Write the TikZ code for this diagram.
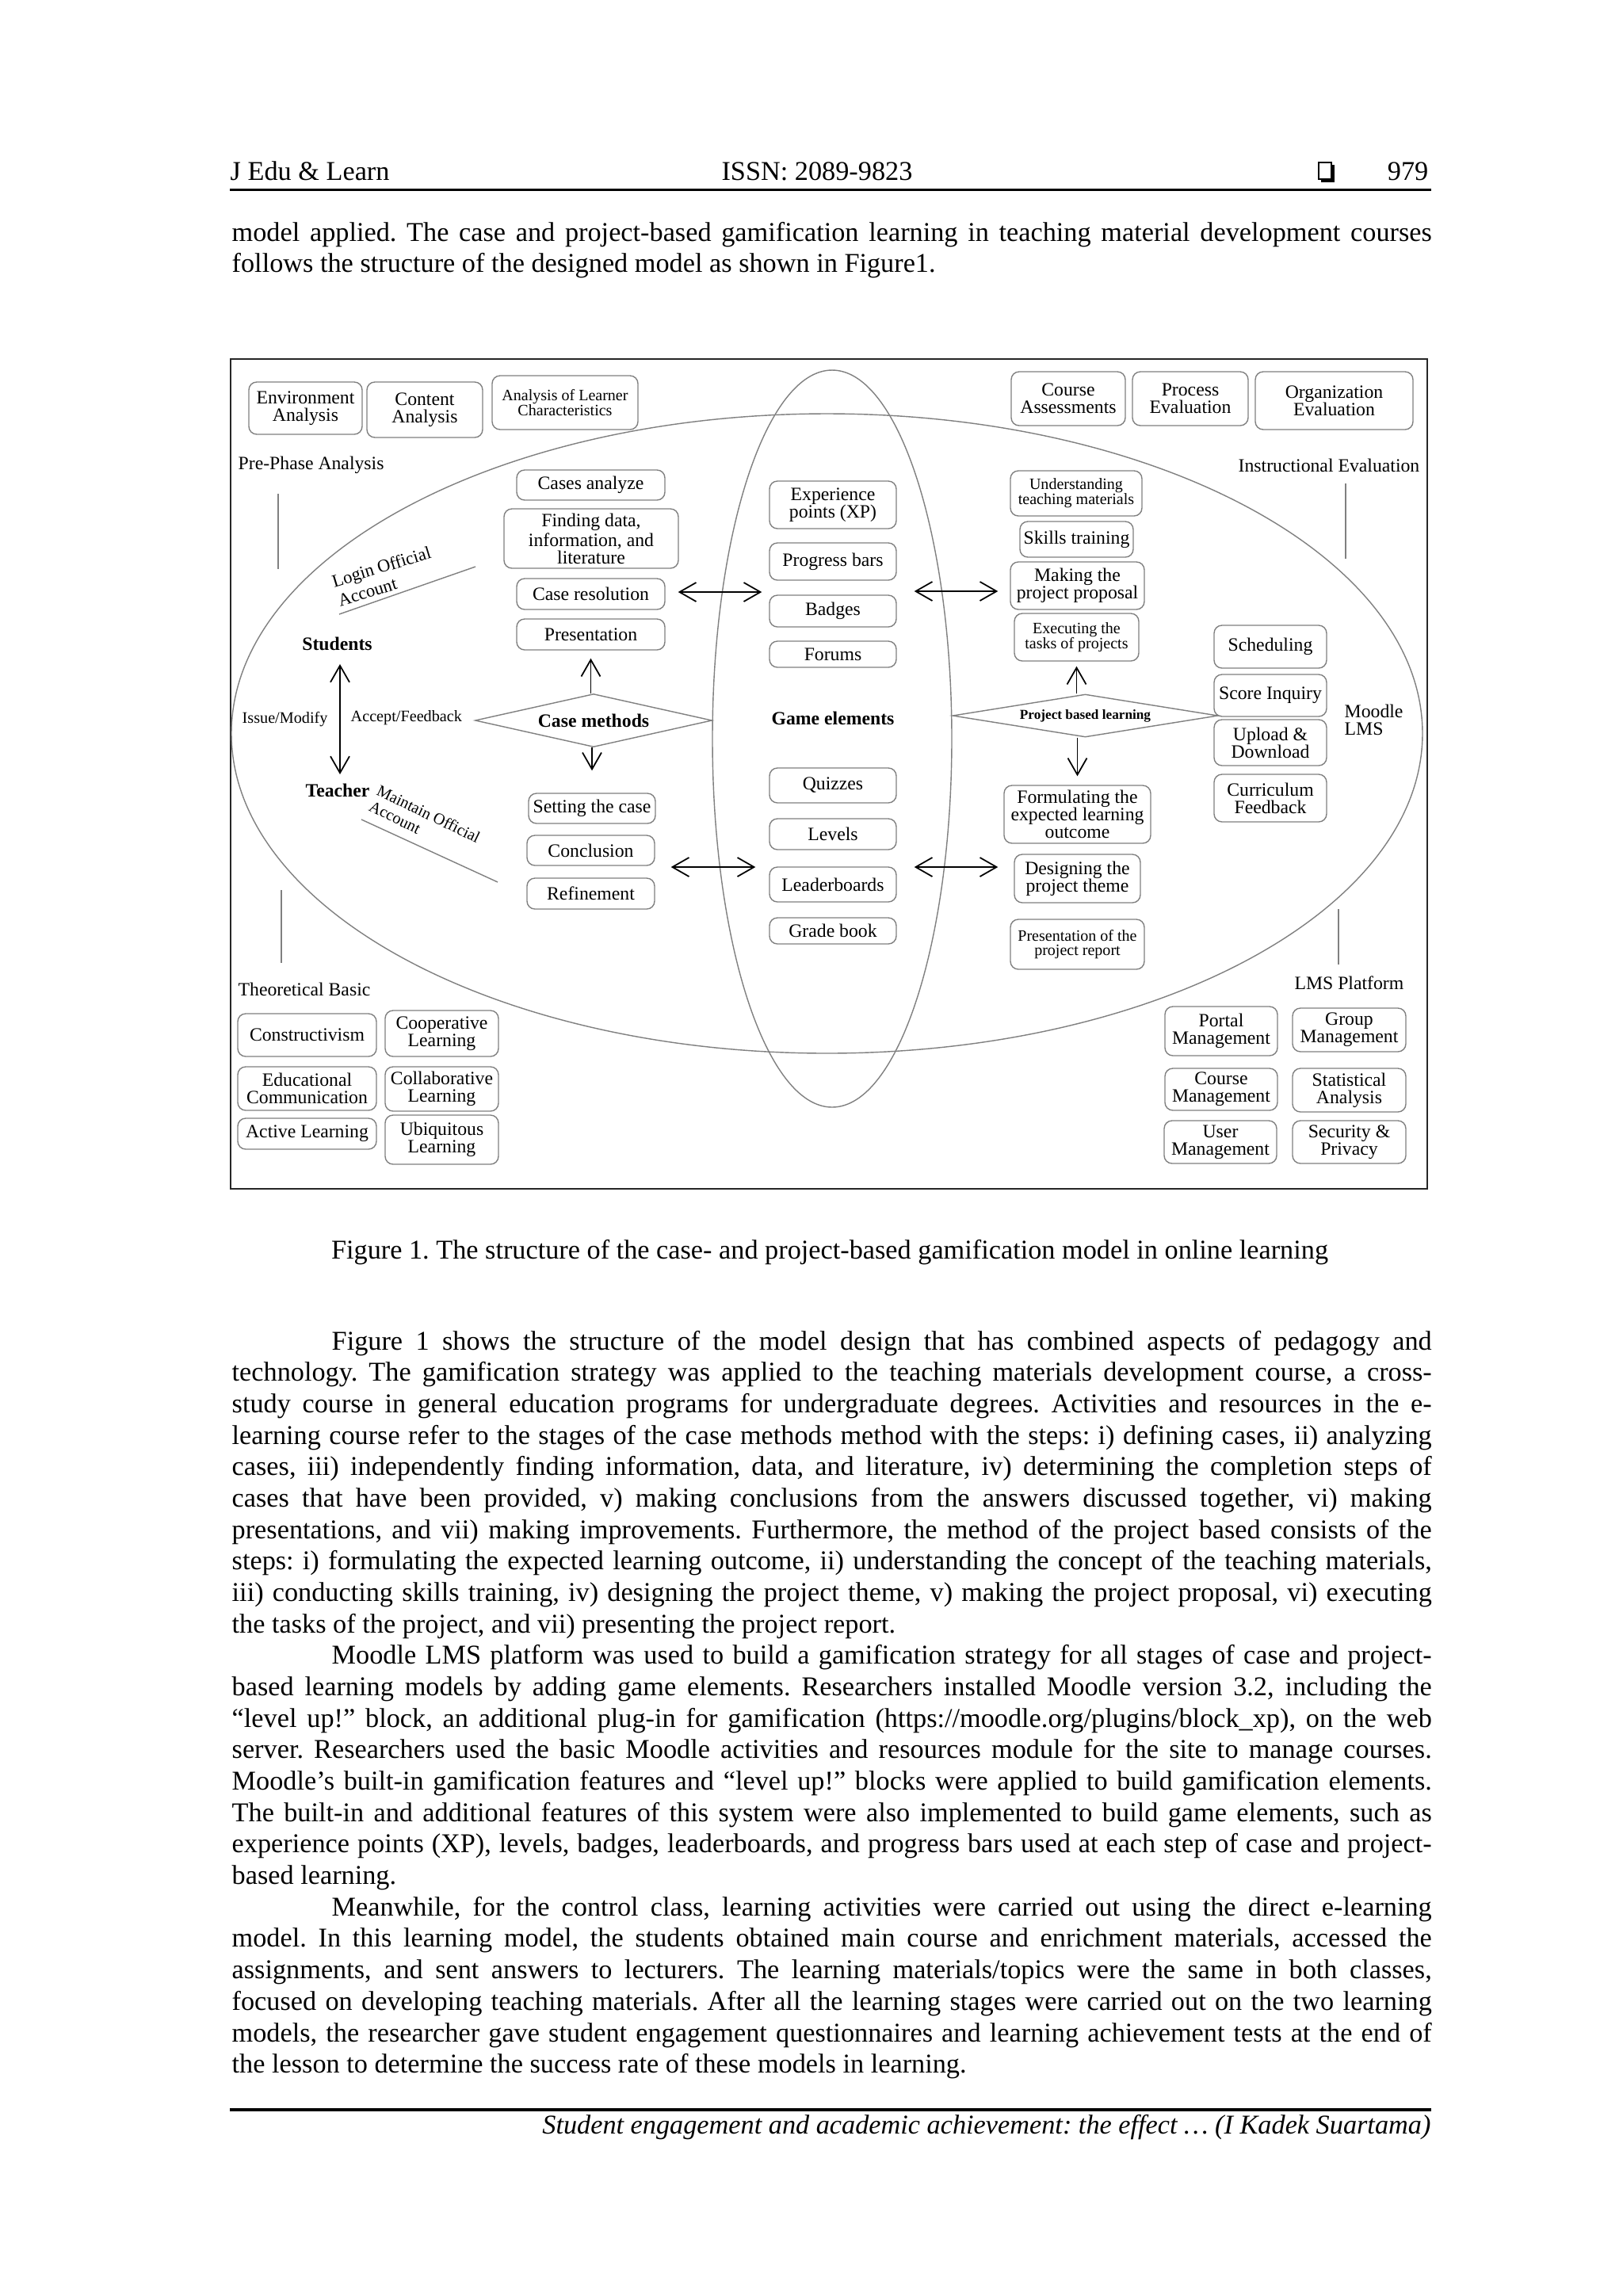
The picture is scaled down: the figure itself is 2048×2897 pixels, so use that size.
\documentclass[tikz,border=0pt]{standalone}
\usepackage{fontspec}
\setmainfont{Liberation Serif}
\usetikzlibrary{arrows.meta,shapes.geometric}
\newcommand{\jline}[1]{\makebox[151.4mm][s]{#1}}
\newcommand{\iline}[1]{\makebox[138.8mm][s]{#1}}
\frenchspacing
\tikzset{
 bx/.style={draw=black!50, line width=0.4pt, rounded corners=1mm, align=center, inner sep=0pt, font=\fontsize{6.75}{6.2}\selectfont},
 sbx/.style={bx, font=\fontsize{5.7}{5.3}\selectfont},
 lbl/.style={inner sep=0pt, font=\fontsize{6.75}{6.2}\selectfont},
 blbl/.style={inner sep=0pt, font=\bfseries\fontsize{6.75}{6.2}\selectfont},
 slbl/.style={inner sep=0pt, font=\fontsize{5.75}{6}\selectfont},
 sepline/.style={draw=black!50, line width=0.4pt},
 ell/.style={ellipse, draw=black!50, line width=0.4pt, inner sep=0pt},
 dia/.style={diamond, draw=black!50, line width=0.4pt, inner sep=0pt},
 vtip/.tip={Straight Barb[length=2.1mm,width=2.4mm]},
 arr/.style={draw=black, line width=0.5pt, -vtip},
 darr/.style={draw=black, line width=0.5pt, vtip-vtip},
 body/.style={anchor=base west, inner sep=0pt, font=\fontsize{9.75}{11.3}\selectfont},
}
\begin{document}
\begin{tikzpicture}[x=0.1mm, y=-0.1mm]
\fill[white] (0,0) rectangle (2048,2897);
\path[use as bounding box] (0,0) rectangle (2048,2897);

% ---------- header ----------
\node[body] (hl) at (290,227) {J Edu \& Learn};
\node[body, anchor=base] (hc) at (1031,227) {ISSN: 2089-9823};
\node[body, anchor=base east] (hr) at (1803,227) {979};
\draw[line width=0.15mm] (1664,205) rectangle (1680,226);
\fill[black] (1680,208) rectangle (1683.5,229.5);
\fill[black] (1667,226) rectangle (1683.5,229.5);
\draw[line width=0.9pt] (290,239.5) -- (1806,239.5);

% ---------- top paragraph ----------
\node[body] (t1) at (292,304) {\jline{model applied. The case and project-based gamification learning in teaching material development courses}};
\node[body] (t2) at (292,343.7) {follows the structure of the designed model as shown in Figure1.};

% ---------- figure frame ----------
\draw[line width=0.8pt, black!85] (291,453) rectangle (1801,1500);

% ellipses
\node[ell, minimum width=150.3mm, minimum height=80.7mm] (bige) at (1043.5,925.5) {};
\node[ell, minimum width=30.2mm, minimum height=93mm] (smle) at (1050,932) {};

% top row boxes
\node[bx, minimum width=14.3mm, minimum height=6.6mm] (env) at (385.5,515) {Environment\\Analysis};
\node[bx, minimum width=14.6mm, minimum height=7mm] (con) at (536,517) {Content\\Analysis};
\node[sbx, minimum width=18.4mm, minimum height=6.8mm] (alc) at (713,508) {Analysis of Learner\\Characteristics};
\node[bx, minimum width=14.4mm, minimum height=6.8mm] (cas) at (1348,503) {Course\\Assessments};
\node[bx, minimum width=14.6mm, minimum height=6.8mm] (pev) at (1502,503) {Process\\Evaluation};
\node[bx, minimum width=19.9mm, minimum height=7.3mm] (oev) at (1683.5,505.5) {Organization\\Evaluation};

% corner labels
\node[lbl, anchor=west] (ppa) at (300,587) {Pre-Phase Analysis};
\node[lbl, anchor=east] (iev) at (1792,587) {Instructional Evaluation};
\node[lbl, anchor=west] (tba) at (300,1248) {Theoretical Basic};
\node[lbl, anchor=east] (lmp) at (1772,1240) {LMS Platform};
\node[lbl, anchor=west, align=left] (mdl) at (1696,908) {Moodle\\LMS};

% separator lines
\draw[sepline] (351,623) -- (351,718);
\draw[sepline] (1698,610) -- (1698,705);
\draw[sepline] (355,1123) -- (355,1215);
\draw[sepline] (1689,1147) -- (1689,1217);
\draw[sepline] (428,775) -- (600,715);
\draw[sepline] (456,1034) -- (628,1113);

% rotated labels
\node[lbl, rotate=17, align=left, font=\fontsize{6.4}{7.2}\selectfont] (login) at (485,727) {Login Official\\Account};
\node[lbl, rotate=-26, align=left, font=\fontsize{5.8}{6.4}\selectfont] (maint) at (536,1037) {Maintain Official\\Account};

% students / teacher
\node[blbl] (stu) at (425.5,812) {Students};
\node[blbl] (tea) at (426,997) {Teacher};
\node[slbl, anchor=west] (iss) at (305,908) {Issue/Modify};
\node[slbl, anchor=west] (acc) at (442,906) {Accept/Feedback};
\draw[darr] ([xshift=0.35mm,yshift=-2.6mm]stu.center) -- ([xshift=0.3mm,yshift=2mm]tea.center);

% case methods column
\node[bx, minimum width=18.7mm, minimum height=3.8mm] (can) at (745.5,612) {Cases analyze};
\node[bx, minimum width=22mm, minimum height=7.5mm] (fin) at (746,679.5) {Finding data,\\information, and\\literature};
\node[bx, minimum width=18.7mm, minimum height=3.9mm] (res) at (745.5,749.5) {Case resolution};
\node[bx, minimum width=18.7mm, minimum height=3.9mm] (pres) at (745.5,800.5) {Presentation};
\node[dia, aspect=4.46, minimum width=29.9mm, minimum height=6.7mm, font=\bfseries\fontsize{6.75}{6.2}\selectfont] (cm) at (749,909) {Case methods};
\node[bx, minimum width=16mm, minimum height=3.8mm] (set) at (747,1020) {Setting the case};
\node[bx, minimum width=16.1mm, minimum height=3.8mm] (conc) at (745.5,1073) {Conclusion};
\node[bx, minimum width=16.1mm, minimum height=3.9mm] (ref) at (745.5,1127.5) {Refinement};

% game elements column
\node[bx, minimum width=16mm, minimum height=6mm] (xp) at (1051,637) {Experience\\points (XP)};
\node[bx, minimum width=16mm, minimum height=4.7mm] (pb) at (1051,708.5) {Progress bars};
\node[bx, minimum width=16mm, minimum height=4mm] (bad) at (1051,771) {Badges};
\node[bx, minimum width=16mm, minimum height=3.3mm] (for) at (1051,825.5) {Forums};
\node[blbl] (ge) at (1051,906) {Game elements};
\node[bx, minimum width=16mm, minimum height=4.4mm] (qui) at (1051,991) {Quizzes};
\node[bx, minimum width=16mm, minimum height=3.9mm] (lev) at (1051,1052.5) {Levels};
\node[bx, minimum width=16mm, minimum height=4.4mm] (lead) at (1051,1116) {Leaderboards};
\node[bx, minimum width=16mm, minimum height=3.3mm] (gb) at (1051,1174.5) {Grade book};

% project column
\node[sbx, minimum width=16.6mm, minimum height=5.7mm] (und) at (1358,622.5) {Understanding\\teaching materials};
\node[bx, minimum width=14.3mm, minimum height=4.5mm] (ski) at (1358.5,680.5) {Skills training};
\node[bx, minimum width=16.9mm, minimum height=6mm] (mak) at (1359.5,739) {Making the\\project proposal};
\node[sbx, minimum width=15.7mm, minimum height=6mm] (exe) at (1358.5,804) {Executing the\\tasks of projects};
\node[dia, aspect=6.2, minimum width=33.5mm, minimum height=5.4mm, font=\bfseries\fontsize{4.9}{5}\selectfont] (pbl) at (1369.5,903) {Project based learning};
\node[bx, minimum width=18.5mm, minimum height=7.3mm] (form) at (1359.5,1027.5) {Formulating the\\expected learning\\outcome};
\node[bx, minimum width=15.9mm, minimum height=6.1mm] (des) at (1359.5,1108.5) {Designing the\\project theme};
\node[sbx, minimum width=16.9mm, minimum height=6.3mm] (prr) at (1359.5,1191.5) {Presentation of the\\project report};

% moodle column
\node[bx, minimum width=14.2mm, minimum height=5.4mm] (sch) at (1603,816) {Scheduling};
\node[bx, minimum width=14.2mm, minimum height=5.3mm] (sci) at (1603,877.5) {Score Inquiry};
\node[bx, minimum width=14.2mm, minimum height=5.8mm] (upl) at (1603,937) {Upload \&\\Download};
\node[bx, minimum width=14.2mm, minimum height=6mm] (cur) at (1603,1007) {Curriculum\\Feedback};

% theoretical basis
\node[bx, minimum width=17.5mm, minimum height=5.4mm] (cst) at (387.5,1306) {Constructivism};
\node[bx, minimum width=14.3mm, minimum height=5.8mm] (coo) at (557.5,1304) {Cooperative\\Learning};
\node[bx, minimum width=17.5mm, minimum height=5.5mm] (edc) at (387.5,1373.5) {Educational\\Communication};
\node[bx, minimum width=14.3mm, minimum height=5.6mm] (col) at (557.5,1374) {Collaborative\\Learning};
\node[bx, minimum width=17.5mm, minimum height=3.9mm] (act) at (387.5,1430.5) {Active Learning};
\node[bx, minimum width=14.3mm, minimum height=6.2mm] (ubi) at (557.5,1438) {Ubiquitous\\Learning};

% LMS platform
\node[bx, minimum width=14.2mm, minimum height=6.2mm] (por) at (1541,1301) {Portal\\Management};
\node[bx, minimum width=14.3mm, minimum height=5.5mm] (grp) at (1702.5,1299.5) {Group\\Management};
\node[bx, minimum width=14.2mm, minimum height=5.3mm] (cmg) at (1541,1374.5) {Course\\Management};
\node[bx, minimum width=14.3mm, minimum height=5.5mm] (sta) at (1702.5,1375.5) {Statistical\\Analysis};
\node[bx, minimum width=14.2mm, minimum height=5.4mm] (usr) at (1540,1441) {User\\Management};
\node[bx, minimum width=14.3mm, minimum height=5.4mm] (sec) at (1702.5,1441) {Security \&\\Privacy};

% arrows
\draw[arr, shorten >=1mm] (cm.north -| pres.south) -- (pres.south);
\draw[arr, shorten >=2.8mm] (cm.south -| set.north) -- (set.north);
\draw[arr, shorten >=0.6mm] (pbl.north -| exe.south) -- (exe.south);
\draw[arr, shorten >=1.1mm] (pbl.south -| form.north) -- (form.north);
\draw[darr, shorten <=1.6mm, shorten >=0.9mm] ([yshift=0.25mm]res.east) -- ([yshift=0.25mm]res.east -| bad.west);
\draw[darr, shorten <=2.2mm, shorten >=1.5mm] ([yshift=-0.7mm]mak.west -| bad.east) -- ([yshift=-0.7mm]mak.west);
\draw[darr, shorten <=2mm, shorten >=1.7mm] ([yshift=2.2mm]lead.west -| ref.east) -- ([yshift=2.2mm]lead.west);
\draw[darr, shorten <=2.2mm, shorten >=2mm] ([yshift=2.2mm]lead.east) -- ([yshift=2.2mm]lead.east -| des.west);

% ---------- caption ----------
\node[body, anchor=base] (cap) at (1047,1588) {Figure 1. The structure of the case- and project-based gamification model in online learning};

% ---------- body text ----------
\node[body] (k1) at (418,1703) {\iline{Figure 1 shows the structure of the model design that has combined aspects of pedagogy and}};
\node[body] (k2) at (292,1742.7) {\jline{technology. The gamification strategy was applied to the teaching materials development course, a cross-}};
\node[body] (k3) at (292,1782.4) {\jline{study course in general education programs for undergraduate degrees. Activities and resources in the e-}};
\node[body] (k4) at (292,1822.0) {\jline{learning course refer to the stages of the case methods method with the steps: i) defining cases, ii) analyzing}};
\node[body] (k5) at (292,1861.7) {\jline{cases, iii) independently finding information, data, and literature, iv) determining the completion steps of}};
\node[body] (k6) at (292,1901.4) {\jline{cases that have been provided, v) making conclusions from the answers discussed together, vi) making}};
\node[body] (k7) at (292,1941.1) {\jline{presentations, and vii) making improvements. Furthermore, the method of the project based consists of the}};
\node[body] (k8) at (292,1980.8) {\jline{steps: i) formulating the expected learning outcome, ii) understanding the concept of the teaching materials,}};
\node[body] (k9) at (292,2020.4) {\jline{iii) conducting skills training, iv) designing the project theme, v) making the project proposal, vi) executing}};
\node[body] (k10) at (292,2060.1) {the tasks of the project, and vii) presenting the project report.};
\node[body] (k11) at (418,2099.8) {\iline{Moodle LMS platform was used to build a gamification strategy for all stages of case and project-}};
\node[body] (k12) at (292,2139.5) {\jline{based learning models by adding game elements. Researchers installed Moodle version 3.2, including the}};
\node[body] (k13) at (292,2179.2) {\jline{“level up!” block, an additional plug-in for gamification (https://moodle.org/plugins/block\_xp), on the web}};
\node[body] (k14) at (292,2218.8) {\jline{server. Researchers used the basic Moodle activities and resources module for the site to manage courses.}};
\node[body] (k15) at (292,2258.5) {\jline{Moodle’s built-in gamification features and “level up!” blocks were applied to build gamification elements.}};
\node[body] (k16) at (292,2298.2) {\jline{The built-in and additional features of this system were also implemented to build game elements, such as}};
\node[body] (k17) at (292,2337.9) {\jline{experience points (XP), levels, badges, leaderboards, and progress bars used at each step of case and project-}};
\node[body] (k18) at (292,2377.6) {based learning.};
\node[body] (k19) at (418,2417.2) {\iline{Meanwhile, for the control class, learning activities were carried out using the direct e-learning}};
\node[body] (k20) at (292,2456.9) {\jline{model. In this learning model, the students obtained main course and enrichment materials, accessed the}};
\node[body] (k21) at (292,2496.6) {\jline{assignments, and sent answers to lecturers. The learning materials/topics were the same in both classes,}};
\node[body] (k22) at (292,2536.3) {\jline{focused on developing teaching materials. After all the learning stages were carried out on the two learning}};
\node[body] (k23) at (292,2576.0) {\jline{models, the researcher gave student engagement questionnaires and learning achievement tests at the end of}};
\node[body] (k24) at (292,2615.6) {the lesson to determine the success rate of these models in learning.};

% ---------- footer ----------
\draw[line width=0.9pt] (290,2662) -- (1806,2662);
\node[body, anchor=base east, font=\itshape\fontsize{9.75}{11.3}\selectfont] (foot) at (1806,2692) {Student engagement and academic achievement: the effect … (I Kadek Suartama)};
\end{tikzpicture}
\end{document}
